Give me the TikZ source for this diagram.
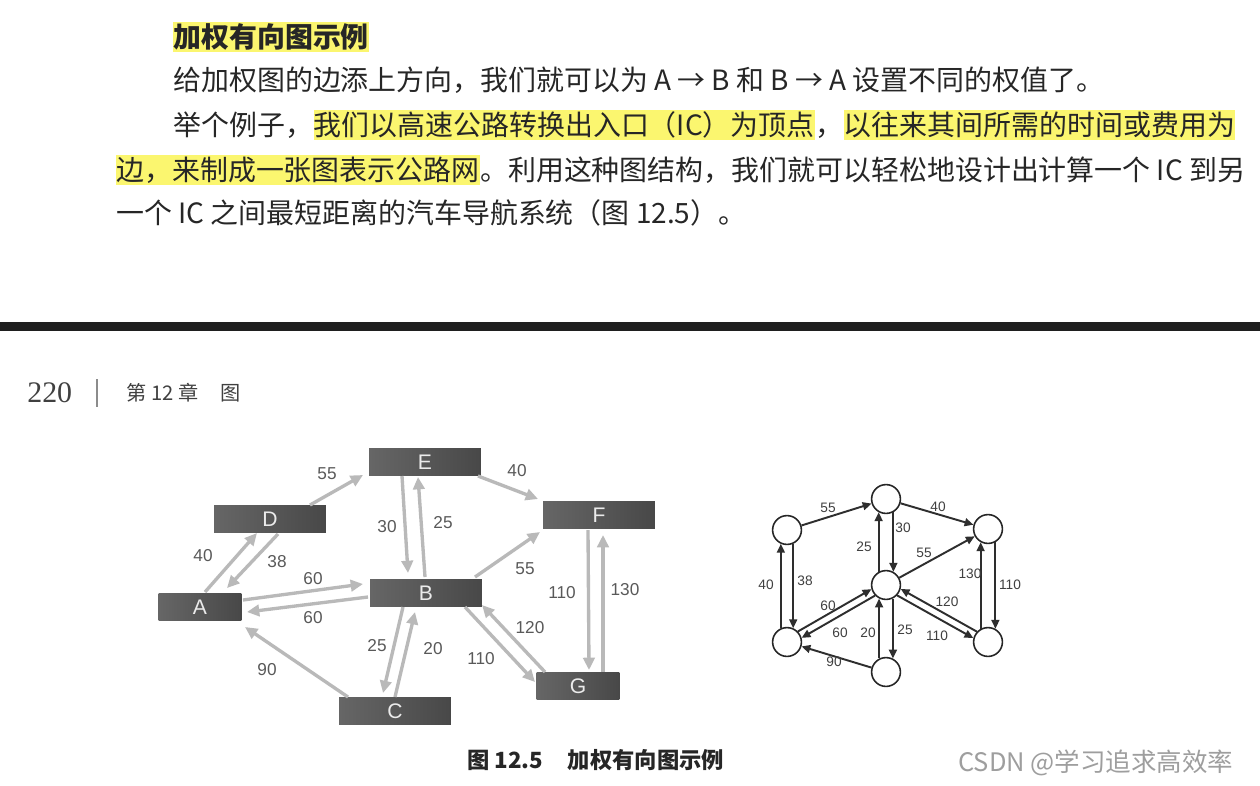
\documentclass[tikz,border=0pt]{standalone}
\usepackage{xcolor}
\usepackage{fontspec}
\setmainfont{Noto Sans CJK SC}
\newfontfamily\labfont{Liberation Sans}
\newfontfamily\pagefont{Liberation Serif}
\usepackage{tikz}
\usetikzlibrary{arrows.meta, positioning, calc}

\definecolor{hlyellow}{HTML}{FBF66F}
\definecolor{inktext}{HTML}{262626}
\definecolor{edgegray}{HTML}{B9B9B9}
\definecolor{boxlight}{HTML}{666666}
\definecolor{boxdark}{HTML}{484848}

\begin{document}
\begin{tikzpicture}[
    x=0.02cm, y=-0.02cm,
    % --- text styles ---
    txt/.style={anchor=west, inner sep=0pt, text height=14.5pt, text depth=2.8pt,
        font=\fontsize{15.9pt}{18pt}\selectfont, text=inktext},
    hlbox/.style={fill=hlyellow},
    % --- left graph ---
    ic/.style={rectangle, minimum width=63.5pt, minimum height=15.3pt, inner sep=0pt,
        left color=boxlight, right color=boxdark, text=black!8,
        font=\labfont\fontsize{12pt}{12pt}\selectfont},
    icsmall/.style={ic, minimum width=47pt},
    larr/.style={-{Triangle[length=7pt, width=6.5pt]}, line width=1.9pt, draw=edgegray},
    lw/.style={font=\labfont\fontsize{9.8pt}{10pt}\selectfont, text=black!65, inner sep=0pt},
    % --- right graph ---
    vtx/.style={circle, draw=black!85, line width=0.9pt, fill=white,
        minimum size=16.4pt, inner sep=0pt},
    rarr/.style={-{Triangle[length=5pt, width=4.5pt]}, line width=1.1pt, draw=black!82},
    rw/.style={font=\labfont\fontsize{7.8pt}{8pt}\selectfont, text=black!75, inner sep=0pt}
]
\useasboundingbox[fill=white] (0,0) rectangle (1260,785);

%%% ================= TEXT BLOCK =================
\node[txt, hlbox] (head) at (173,37) {\bfseries 加权有向图示例};
\node[txt] (l1) at (173,80) {给加权图的边添上方向，我们就可以为 A → B 和 B → A 设置不同的权值了。};
\node[txt] (l2a) at (173,125) {举个例子，};
\node[txt, hlbox, right=0pt of l2a] (l2b) {我们以高速公路转换出入口（IC）为顶点};
\node[txt, right=0pt of l2b] (l2c) {，};
\node[txt, hlbox, right=0pt of l2c] (l2d) {以往来其间所需的时间或费用为};
\node[txt, hlbox] (l3a) at (116,170) {边，来制成一张图表示公路网};
\node[txt, right=0pt of l3a] (l3b) {。利用这种图结构，我们就可以轻松地设计出计算一个 IC 到另};
\node[txt] (l4) at (116,213) {一个 IC 之间最短距离的汽车导航系统（图 12.5）。};

%%% ================= PAGE BREAK =================
\fill[black!88] (0,322) rectangle (1260,331);
\node[anchor=west, inner sep=0pt, text=black!75,
    font=\pagefont\fontsize{17pt}{17pt}\selectfont] (pnum) at (27,393) {220};
\draw[black!45, line width=0.6pt] (97,379) -- (97,407);
\node[anchor=west, inner sep=0pt, text=black!75,
    font=\fontsize{11.5pt}{12pt}\selectfont] (chap) at (126,393) {第 12 章\hspace{1.1em}图};

%%% ================= LEFT GRAPH: NODES =================
\node[ic] (E) at (425,462) {E};
\node[ic] (D) at (270,519) {D};
\node[ic] (F) at (599,515) {F};
\node[icsmall] (A) at (200,607) {A};
\node[ic] (B) at (426,593) {B};
\node[ic] (C) at (395,711) {C};
\node[icsmall] (G) at (578,686) {G};

%%% ================= LEFT GRAPH: EDGES =================
\draw[larr] ([shift={(40,-14)}]D.center) -- ([shift={(-62,13)}]E.center);
\draw[larr] ([shift={(53,14)}]E.center) -- ([shift={(-61,-16)}]F.center);
\draw[larr] ([shift={(-23,14)}]E.center) -- ([shift={(-18,-20)}]B.center);
\draw[larr] ([shift={(-1,-16)}]B.center) -- ([shift={(-7,15)}]E.center);
\draw[larr] ([shift={(5,-15)}]A.center) -- ([shift={(-13,14)}]D.center);
\draw[larr] ([shift={(8,15)}]D.center) -- ([shift={(27,-19)}]A.center);
\draw[larr] ([shift={(43,-7)}]A.center) -- ([shift={(-63,-9)}]B.center);
\draw[larr] ([shift={(-58,4)}]B.center) -- ([shift={(47,5)}]A.center);
\draw[larr] ([shift={(-47,-14)}]C.center) -- ([shift={(45,20)}]A.center);
\draw[larr] ([shift={(-23,14)}]B.center) -- ([shift={(-12,-18)}]C.center);
\draw[larr] ([shift={(0,-14)}]C.center) -- ([shift={(-11,19)}]B.center);
\draw[larr] ([shift={(49,-16)}]B.center) -- ([shift={(-59,17)}]F.center);
\draw[larr] ([shift={(39,14)}]B.center) -- ([shift={(-43,-4)}]G.center);
\draw[larr] ([shift={(-33,-14)}]G.center) -- ([shift={(56,12)}]B.center);
\draw[larr] ([shift={(-11,15)}]F.center) -- ([shift={(11,-16)}]G.center);
\draw[larr] ([shift={(25,-14)}]G.center) -- ([shift={(4,20)}]F.center);

%% weights
\node[lw] (wDE) at (327,474) {55};
\node[lw] (wEF) at (517,471) {40};
\node[lw] (wEB) at (387,527) {30};
\node[lw] (wBE) at (443,523) {25};
\node[lw] (wAD) at (203,556) {40};
\node[lw] (wDA) at (277,562) {38};
\node[lw] (wAB) at (313,579) {60};
\node[lw] (wBA) at (313,618) {60};
\node[lw] (wCA) at (267,670) {90};
\node[lw] (wBC) at (377,646) {25};
\node[lw] (wCB) at (433,649) {20};
\node[lw] (wBF) at (525,569) {55};
\node[lw] (wBG) at (481,659) {110};
\node[lw] (wGB) at (530,628) {120};
\node[lw] (wFG) at (562,593) {110};
\node[lw] (wGF) at (625,590) {130};

%%% ================= RIGHT GRAPH: NODES =================
\node[vtx] (cD) at (787,530) {};
\node[vtx] (cE) at (886,499) {};
\node[vtx] (cF) at (988,529) {};
\node[vtx] (cB) at (886,585) {};
\node[vtx] (cA) at (787,642) {};
\node[vtx] (cC) at (886,672) {};
\node[vtx] (cG) at (988,642) {};

%%% ================= RIGHT GRAPH: EDGES =================
\draw[rarr] (cD) -- (cE);
\draw[rarr] (cE) -- (cF);
\draw[rarr] (cB) -- (cF);
\draw[rarr] (cC) -- (cA);
\draw[rarr] (cA.114) -- (cD.246);
\draw[rarr] (cD.294) -- (cA.66);
\draw[rarr] (cB.119) -- (cE.241);
\draw[rarr] (cE.299) -- (cB.61);
\draw[rarr] (cC.117) -- (cB.243);
\draw[rarr] (cB.297) -- (cC.63);
\draw[rarr] (cG.119) -- (cF.241);
\draw[rarr] (cF.299) -- (cG.61);
\draw[rarr] (cA.44) -- (cB.196);
\draw[rarr] (cB.224) -- (cA.16);
\draw[rarr] (cG.137) -- (cB.345);
\draw[rarr] (cB.317) -- (cG.165);

%% weights
\node[rw] (vDE) at (828,508) {55};
\node[rw] (vEF) at (938,507) {40};
\node[rw] (vEB) at (903,528) {30};
\node[rw] (vBE) at (864,547) {25};
\node[rw] (vBF) at (924,553) {55};
\node[rw] (vAD) at (766,585) {40};
\node[rw] (vDA) at (805,581) {38};
\node[rw] (vFG) at (1010,585) {110};
\node[rw] (vGF) at (970,574) {130};
\node[rw] (vAB) at (828,606) {60};
\node[rw] (vBA) at (840,633) {60};
\node[rw] (vCB) at (868,633) {20};
\node[rw] (vBC) at (905,630) {25};
\node[rw] (vGB) at (947,602) {120};
\node[rw] (vBG) at (937,636) {110};
\node[rw] (vCA) at (834,662) {90};

%%% ================= CAPTION =================
\node[anchor=west, inner sep=0pt, text=black!85,
    font=\bfseries\fontsize{12.7pt}{13pt}\selectfont] (cap) at (467,760)
    {图 12.5\hspace{1.1em}加权有向图示例};
\node[anchor=west, inner sep=0pt, text=black!38,
    font=\fontsize{14.5pt}{15pt}\selectfont] (mark) at (958,763)
    {CSDN @学习追求高效率};

\end{tikzpicture}
\end{document}
